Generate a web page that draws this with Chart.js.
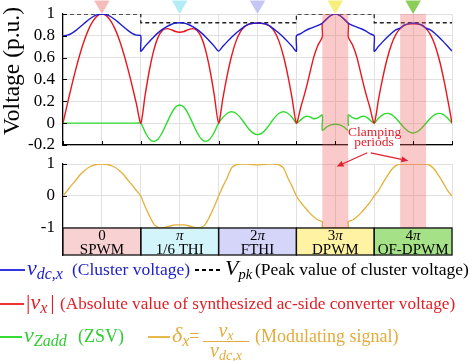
<!DOCTYPE html>
<html><head><meta charset="utf-8">
<script src="https://cdn.jsdelivr.net/npm/chart.js@4.4.1/dist/chart.umd.min.js"></script>
<style>
html,body{margin:0;padding:0;background:#fff;}
body{width:474px;height:361px;position:relative;overflow:hidden;font-family:'Liberation Serif','Times New Roman',serif;}
canvas{position:absolute;left:0;}
#cTop{top:0;}
#cBot{top:150px;}
.ylab{position:absolute;left:12px;top:71px;transform:translate(-50%,-50%) rotate(-90deg);font-size:23.5px;white-space:nowrap;color:#000;line-height:1;}
.clamp{position:absolute;left:348px;top:126px;width:52px;height:26px;background:#fff;color:#e0202c;font-size:13.5px;line-height:10px;text-align:center;padding-top:1px;box-sizing:border-box;}
.row{position:absolute;left:0;white-space:nowrap;font-size:17.5px;line-height:24px;}
.row span{display:inline-block;}
.sym{font-size:22px;font-style:italic;}
.sub{font-size:16px;font-style:italic;vertical-align:-4px;}
.bar{font-size:22px;}
.ln{position:absolute;height:1.5px;}
.dash{height:1.5px;background:repeating-linear-gradient(90deg,#000 0 4px,transparent 4px 7px);}
.frac{position:absolute;left:203px;top:322px;width:46px;text-align:center;color:#e3ac3c;line-height:16px;}
.sym2{font-size:20px;font-style:italic;}
.sub2{font-size:14px;font-style:italic;position:relative;top:3px;}
</style></head>
<body>
<canvas id="cTop" width="474" height="164"></canvas>
<canvas id="cBot" width="474" height="110"></canvas>
<div class="ylab">Voltage (p.u.)</div>
<div class="clamp">Clamping<br>periods</div>

<div class="ln" style="left:0;top:269px;width:25px;background:#3535dd"></div>
<div class="ln dash" style="left:195px;top:269px;width:27px;"></div>
<div class="row" style="top:256px;color:#2020cc"><span style="width:27px"></span><span style="width:45px"><span class="sym">v</span><span class="sub">dc,x</span></span><span style="width:153px">(Cluster voltage)</span><span style="width:30px;color:#000"><span class="sym">V</span><span class="sub" style="font-size:14.5px">pk</span></span><span style="color:#000">(Peak value of cluster voltage)</span></div>

<div class="ln" style="left:0;top:303px;width:24px;background:#e33"></div>
<div class="row" style="top:290px;color:#e21d25;font-size:17.2px"><span style="width:26px"></span><span style="width:34px"><span class="bar">|</span><span class="sym">v</span><span class="sub" style="margin-right:3px">x</span><span class="bar">|</span></span><span>(Absolute value of synthesized ac-side converter voltage)</span></div>

<div class="ln" style="left:0;top:336px;width:22px;background:#3d3"></div>
<div class="ln" style="left:148px;top:336px;width:22px;background:#e8b84a"></div>
<div class="row" style="top:323px;font-size:18px"><span style="width:24px"></span><span style="width:54px;color:#2fcc2f"><span class="sym">v</span><span class="sub">Zadd</span></span><span style="width:94px;color:#2fcc2f">(ZSV)</span><span style="width:30px;color:#e3ac3c"><span class="sym">δ</span><span class="sub">x</span>=</span><span style="width:53px"></span><span style="color:#e3ac3c">(Modulating signal)</span></div>
<div class="frac"><div><span class="sym2">v</span><span class="sub2">x</span></div><div style="border-top:1.3px solid #e3ac3c;"><span class="sym2">v</span><span class="sub2">dc,x</span></div></div>

<script>
// ---------- data (phase in degrees) ----------
const phaseDeg = [-90,-80,-70,-60,-50,-40,-30,-20,-10,0,10,20,30,40,50,60,70,80,90,100,110,120,130,140,150,160,170,180,190,200,210,220,230,240,250,260,270,280,290,300,310,320,330,340,350,360,370,380,390,400,410,420,430,440,450,460,470,480,490,500,510,520,530,540,550,560,570,580,590,600,610,620,630,640,650,660,670,680,690,700,710,720,730,740,750,760,770,780,790,800,810];

// cluster voltage v_dc,x  (pairs = value before / after a jump)
const clusterVoltage = [
 0.8,0.806,0.823,0.85,0.883,0.917,0.95,0.977,0.994,1,0.994,0.977,0.95,0.917,0.883,0.85,0.823,0.806,
 [0.8,0.66],
 0.705,0.749,0.79,0.827,0.859,0.885,0.904,0.916,0.92,0.916,0.904,0.885,0.859,0.827,0.79,0.749,0.705,
 0.66,
 0.704,0.747,0.788,0.824,0.855,0.886,0.908,0.914,0.917,0.914,0.908,0.886,0.855,0.824,0.788,0.747,0.704,
 [0.66,0.8],
 0.82,0.845,0.865,0.88,0.895,0.915,0.955,0.988,1,0.988,0.955,0.915,0.895,0.88,0.865,0.845,0.82,
 [0.8,0.66],
 0.704,0.747,0.788,0.824,0.855,0.87,0.9,0.912,0.917,0.912,0.9,0.87,0.855,0.824,0.788,0.747,0.704,
 0.66];

// |v_x|
const absVoltage = [
 0,0.174,0.342,0.5,0.643,0.766,0.866,0.94,0.985,1,0.985,0.94,0.866,0.766,0.643,0.5,0.342,0.174,
 0,
 0.257,0.487,0.667,0.788,0.849,0.866,0.857,0.84,0.833,0.84,0.857,0.866,0.849,0.788,0.667,0.487,0.257,
 0,
 0.23,0.44,0.615,0.747,0.834,0.883,0.906,0.914,0.915,0.914,0.906,0.883,0.834,0.747,0.615,0.44,0.23,
 0,
 0.144,0.282,0.44,0.603,0.716,[0.79,0.915],0.955,0.988,1,0.988,0.955,[0.915,0.79],0.716,0.603,0.44,0.282,0.144,
 0,
 0.219,0.42,0.59,0.721,0.811,0.866,0.895,0.907,0.91,0.907,0.895,0.866,0.811,0.721,0.59,0.42,0.219,
 0];

// v_Zadd (ZSV)
const zsv = [
 0,0,0,0,0,0,0,0,0,0,0,0,0,0,0,0,0,0,
 0,
 -0.083,-0.145,-0.167,-0.145,-0.083,0,0.083,0.145,0.167,0.145,0.083,0,-0.083,-0.145,-0.167,-0.145,-0.083,
 0,
 0.053,0.091,0.105,0.091,0.053,0,-0.053,-0.091,-0.105,-0.091,-0.053,0,0.053,0.091,0.105,0.091,0.053,
 0,
 0.03,0.06,0.06,0.04,0.05,[0.075,-0.065],-0.035,-0.015,-0.01,-0.015,-0.035,[-0.065,0.075],0.05,0.04,0.06,0.06,0.03,
 0,
 0.045,0.078,0.09,0.078,0.045,0,-0.045,-0.078,-0.09,-0.078,-0.045,0,0.045,0.078,0.09,0.078,0.045,
 0];

// modulating signal delta_x
const modSignal = [
 0,0.17,0.34,0.5,0.67,0.8,0.9,0.96,0.99,1,0.99,0.96,0.9,0.8,0.67,0.5,0.34,0.17,
 0,
 -0.33,-0.62,-0.87,-0.98,-1,-0.97,-0.93,-0.905,-0.9,-0.905,-0.93,-0.97,-1,-0.98,-0.87,-0.62,-0.33,
 0,
 0.3,0.57,0.88,0.975,1,1,0.99,0.98,0.975,0.98,0.99,1,1,0.975,0.88,0.57,0.3,
 0,
 -0.2,-0.36,-0.52,-0.65,-0.75,[-0.8,-1],-1,-1,-1,-1,-1,[-1,-0.8],-0.75,-0.65,-0.52,-0.36,-0.2,
 0,
 0.17,0.4,0.62,0.82,0.95,1,1,1,1,1,1,1,0.95,0.82,0.62,0.4,0.17,
 0];

// peak value of cluster voltage (step line)
const vpkPhase = [-90,90,90,450,450,630,630,810];
const vpk      = [1,1,0.92,0.92,1,1,0.92,0.92];

// modulation methods
const modeCenters = [0,180,360,540,720];
const modeTicks   = ['0','π','2π','3π','4π'];
const modeNames   = ['SPWM','1/6 THI','FTHI','DPWM','OF-DPWM'];
const modeColors  = ['#f8d2d2','#d2f4fa','#d5d5f9','#fff2a2','#a5e187'];
const markerColors= ['#f6bcbc','#b2edf7','#c6c6f5','#f6ef7c','#8ccd5a'];
const markerLevel = 1.082;

// clamping periods
const clampBands = [[510,570],[690,750]];
const clampArrows = [{from:[614,1.35],to:[543,0.92]},{from:[622,1.35],to:[709,1.1]}];

const topTicks = [-0.2,0,0.2,0.4,0.6,0.8,1];
const botTicks = [-1,0,1];

// ---------- helpers ----------
function toPoints(xs, ys){
  const out=[];
  xs.forEach((x,i)=>{const v=ys[i]; if(Array.isArray(v)){out.push({x,y:v[0]},{x,y:v[1]});} else out.push({x,y:v});});
  return out;
}
const SERIF = "'Liberation Serif','Times New Roman',serif";
Chart.defaults.font.family = SERIF;
const GRID = '#e1e1e1';
const BAND = 'rgba(240,100,100,0.35)';
const BLUE='#1c1cd2', RED='#e8161e', GREEN='#2cdc2c', GOLD='#e4b03a';

function inwardTicks(chart, yVals){
  const {ctx, chartArea, scales:{y}} = chart;
  ctx.save(); ctx.strokeStyle='#000'; ctx.lineWidth=1;
  yVals.forEach(v=>{const py=Math.round(y.getPixelForValue(v))+0.5; ctx.beginPath(); ctx.moveTo(chartArea.left,py); ctx.lineTo(chartArea.left+4,py); ctx.stroke();});
  ctx.restore();
}

const topDecor = {
  id:'topDecor',
  afterDatasetsDraw(chart){
    const {ctx, chartArea, scales:{x}} = chart;
    ctx.save(); ctx.fillStyle=BAND;
    clampBands.forEach(([a,b])=>{const x1=x.getPixelForValue(a),x2=x.getPixelForValue(b); ctx.fillRect(x1,chartArea.top,x2-x1,chart.height-chartArea.top);});
    ctx.restore();
  },
  afterDraw(chart){
    const {ctx, chartArea, scales:{x}} = chart;
    inwardTicks(chart, topTicks);
    ctx.save(); ctx.strokeStyle='#000'; ctx.lineWidth=1;
    for(let v=-90; v<=810; v+=90){const px=Math.round(x.getPixelForValue(v))+0.5; ctx.beginPath(); ctx.moveTo(px,chartArea.bottom); ctx.lineTo(px,chartArea.bottom-4); ctx.stroke();}
    ctx.restore();
  }
};

function drawTickLabel(ctx, str, cx, y){
  const parts=[...str].map(ch=>({ch, it: ch==='π'}));
  let w=0;
  parts.forEach(p=>{ctx.font=(p.it?'italic ':'')+'15px '+SERIF; p.w=ctx.measureText(p.ch).width; w+=p.w;});
  let xx=cx-w/2; ctx.textAlign='left';
  parts.forEach(p=>{ctx.font=(p.it?'italic ':'')+'15px '+SERIF; ctx.fillText(p.ch,xx,y); xx+=p.w;});
}

const botDecor = {
  id:'botDecor',
  afterDatasetsDraw(chart){
    const {ctx, chartArea, scales:{x,y}} = chart;
    const yTop = chartArea.top, yM1 = y.getPixelForValue(-1), yBot = chartArea.bottom;
    ctx.save();
    ctx.fillStyle=BAND;
    clampBands.forEach(([a,b])=>{const x1=x.getPixelForValue(a),x2=x.getPixelForValue(b); ctx.fillRect(x1,yTop,x2-x1,yM1-yTop);});
    // method boxes
    modeCenters.forEach((c,i)=>{
      const x1=x.getPixelForValue(c-90), x2=x.getPixelForValue(c+90);
      ctx.fillStyle=modeColors[i]; ctx.fillRect(x1,yM1,x2-x1,yBot-yM1);
    });
    ctx.strokeStyle='#111'; ctx.lineWidth=1.3;
    modeCenters.forEach((c,i)=>{
      const x1=x.getPixelForValue(c-90), x2=x.getPixelForValue(c+90);
      ctx.strokeRect(x1,yM1,x2-x1,yBot-yM1);
    });
    ctx.fillStyle='#000'; ctx.textBaseline='alphabetic';
    modeCenters.forEach((c,i)=>{
      const cx=x.getPixelForValue(c);
      drawTickLabel(ctx, modeTicks[i], cx, yM1+12);
      ctx.font='15px '+SERIF; ctx.textAlign='center';
      ctx.fillText(modeNames[i], cx, yBot-1);
    });
    // arrows
    ctx.strokeStyle='#e0202c'; ctx.fillStyle='#e0202c'; ctx.lineWidth=1.2;
    clampArrows.forEach(a=>{
      const x0=x.getPixelForValue(a.from[0]), y0=y.getPixelForValue(a.from[1]);
      const x1=x.getPixelForValue(a.to[0]), y1=y.getPixelForValue(a.to[1]);
      const ang=Math.atan2(y1-y0,x1-x0), L=7, W=3;
      const bx=x1-L*Math.cos(ang), by=y1-L*Math.sin(ang);
      ctx.beginPath(); ctx.moveTo(x0,y0); ctx.lineTo(bx,by); ctx.stroke();
      ctx.beginPath(); ctx.moveTo(x1,y1); ctx.lineTo(bx-W*Math.sin(ang),by+W*Math.cos(ang)); ctx.lineTo(bx+W*Math.sin(ang),by-W*Math.cos(ang)); ctx.closePath(); ctx.fill();
    });
    ctx.restore();
    inwardTicks(chart, [0,1]);
  }
};

const tickFont = {family:SERIF, size:17};
const lineDS = (data,color,w)=>({data, borderColor:color, borderWidth:w, pointRadius:0, tension:0.25, fill:false});

new Chart(document.getElementById('cTop'), {
  type:'line',
  data:{datasets:[
    lineDS(toPoints(phaseDeg,clusterVoltage),BLUE,1.4),
    lineDS(toPoints(phaseDeg,absVoltage),RED,1.4),
    lineDS(toPoints(phaseDeg,zsv),GREEN,1.4),
    {data:toPoints(vpkPhase,vpk), borderColor:'#222', borderWidth:1.3, borderDash:[4,3], pointRadius:0, tension:0, fill:false},
    {data:modeCenters.map(c=>({x:c,y:markerLevel})), showLine:false, pointStyle:'triangle', pointRotation:180, pointRadius:9,
     pointBackgroundColor:markerColors, pointBorderWidth:0, pointBorderColor:'rgba(0,0,0,0)', clip:false}
  ]},
  options:{
    responsive:false, maintainAspectRatio:false, animation:false,
    layout:{padding:{top:14,right:22,left:0,bottom:0}},
    plugins:{legend:{display:false}, tooltip:{enabled:false}},
    scales:{
      x:{type:'linear', min:-90, max:810, ticks:{display:false, stepSize:90}, grid:{color:GRID, drawTicks:false}, border:{color:'#000', width:1.2},
         afterFit:s=>{s.height=19;}},
      y:{min:-0.2, max:1, afterBuildTicks:s=>{s.ticks=topTicks.map(v=>({value:v}));},
         ticks:{font:tickFont, color:'#000', padding:8, autoSkip:false, callback:v=>String(Number(v.toFixed(1)))},
         grid:{color:GRID, drawTicks:false}, border:{color:'#000', width:1.2},
         afterFit:s=>{s.width=63; s.paddingTop=0; s.paddingBottom=0;}}
    }
  },
  plugins:[topDecor]
});

new Chart(document.getElementById('cBot'), {
  type:'line',
  data:{datasets:[ lineDS(toPoints(phaseDeg,modSignal),GOLD,1.3) ]},
  options:{
    responsive:false, maintainAspectRatio:false, animation:false,
    layout:{padding:{top:14,right:22,left:0,bottom:0}},
    plugins:{legend:{display:false}, tooltip:{enabled:false}},
    scales:{
      x:{type:'linear', min:-90, max:810, ticks:{display:false, stepSize:90}, grid:{color:GRID, drawTicks:false}, border:{display:false},
         afterFit:s=>{s.height=5;}},
      y:{min:-1.844, max:1, afterBuildTicks:s=>{s.ticks=botTicks.map(v=>({value:v}));},
         ticks:{font:tickFont, color:'#000', padding:8, autoSkip:false, callback:v=>String(v)},
         grid:{color:GRID, drawTicks:false}, border:{color:'#000', width:1.2},
         afterFit:s=>{s.width=63; s.paddingTop=0; s.paddingBottom=0;}}
    }
  },
  plugins:[botDecor]
});
</script>
</body></html>
